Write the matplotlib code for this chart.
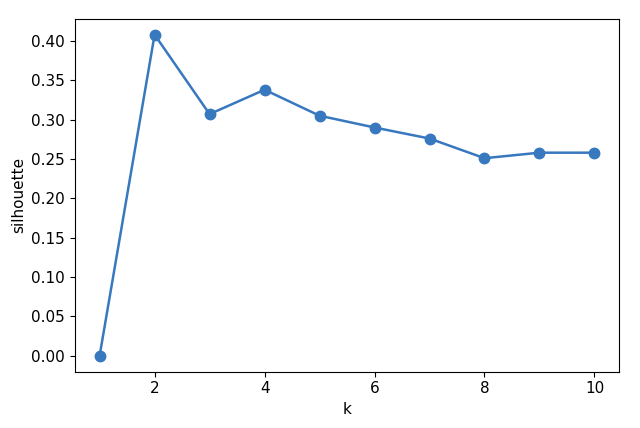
import numpy as np
import matplotlib
matplotlib.use("Agg")
import matplotlib.pyplot as plt

k = [1, 2, 3, 4, 5, 6, 7, 8, 9, 10]
silhouette = [0.0, 0.408, 0.307, 0.338, 0.305, 0.290, 0.276, 0.251, 0.258, 0.258]

plt.rcParams["font.size"] = 11

fig = plt.figure(figsize=(6.4, 4.28), dpi=100)
ax = fig.add_axes([0.117, 0.1315, 0.8505, 0.825])
ax.plot(k, silhouette, marker="o", color="#3778bf", linewidth=1.8, markersize=7.5)
ax.set_xlabel("k")
ax.set_ylabel("silhouette")
fig.savefig("out.png", dpi=100)
